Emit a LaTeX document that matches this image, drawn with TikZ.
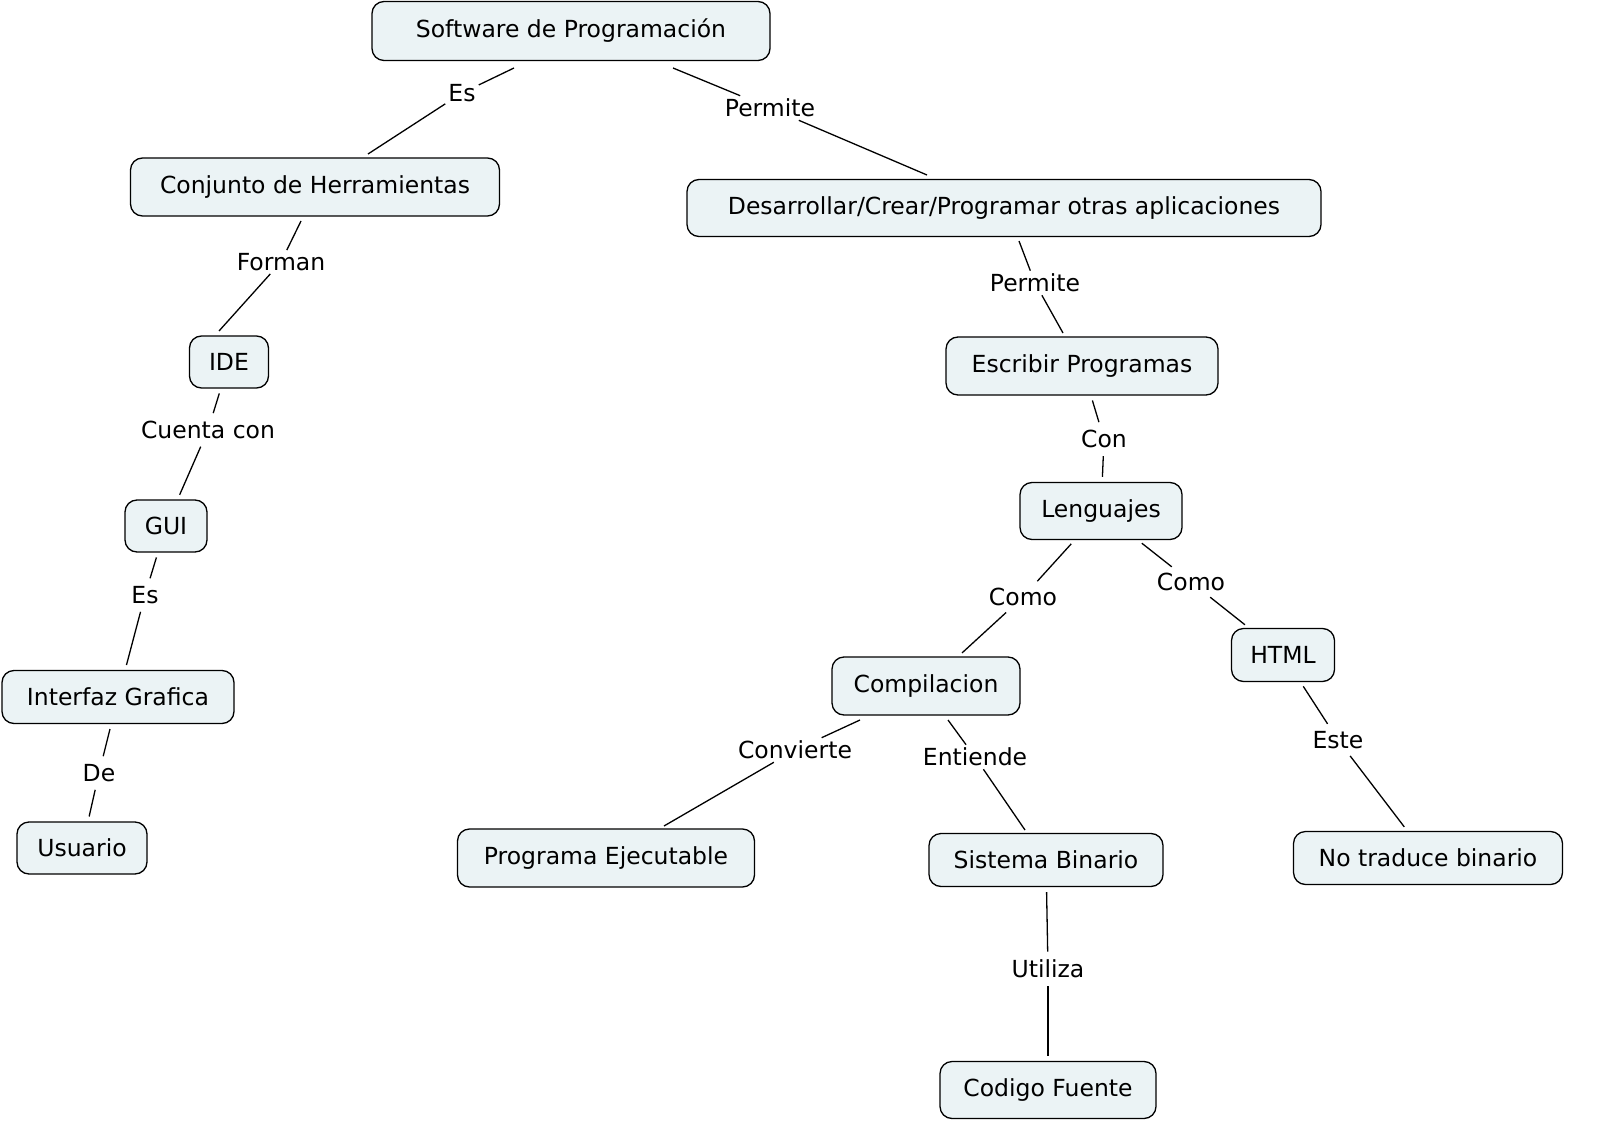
\documentclass[tikz,border=0pt]{standalone}
\usepackage{fontspec}
\setmainfont{DejaVu Sans}
\begin{document}
\begin{tikzpicture}[x=1pt,y=-1pt,
  box/.style={draw,line width=1.3pt,rounded corners=12pt,fill=boxfill,minimum height=54pt,inner sep=0pt,font=\fontsize{23.5}{27}\selectfont},
  lbl/.style={fill=white,inner sep=3pt,font=\fontsize{23.5}{27}\selectfont},
  ln/.style={line width=1.3pt,shorten <=5pt,shorten >=5pt}]
\definecolor{boxfill}{HTML}{EBF3F5}
\useasboundingbox (0,0) rectangle (1600,1147);
\node[box,minimum width=398pt,minimum height=59pt] (sw) at (571,31) {Software de Programación};
\node[box,minimum width=369pt,minimum height=58pt] (ch) at (315,187) {Conjunto de Herramientas};
\node[box,minimum width=634pt,minimum height=57pt] (dc) at (1004,208) {Desarrollar/Crear/Programar otras aplicaciones};
\node[box,minimum width=79pt,minimum height=52pt] (ide) at (229,362) {IDE};
\node[box,minimum width=272pt,minimum height=58pt] (ep) at (1082,366) {Escribir Programas};
\node[box,minimum width=82pt,minimum height=52pt] (gui) at (166,526) {GUI};
\node[box,minimum width=162pt,minimum height=57pt] (le) at (1101,511) {Lenguajes};
\node[box,minimum width=188pt,minimum height=58pt] (co) at (926,686) {Compilacion};
\node[box,minimum width=103pt,minimum height=53pt] (ht) at (1283,655) {HTML};
\node[box,minimum width=232pt,minimum height=53pt] (ig) at (118,697) {Interfaz Grafica};
\node[box,minimum width=130pt,minimum height=52pt] (us) at (82,848) {Usuario};
\node[box,minimum width=297pt,minimum height=58pt] (pe) at (606,858) {Programa Ejecutable};
\node[box,minimum width=234pt,minimum height=53pt] (sb) at (1046,860) {Sistema Binario};
\node[box,minimum width=269pt,minimum height=53pt] (nt) at (1428,858) {No traduce binario};
\node[box,minimum width=216pt,minimum height=57pt] (cf) at (1048,1090) {Codigo Fuente};
\node[lbl] (l1) at (462,93) {Es};
\node[lbl] (l2) at (770,108) {Permite};
\node[lbl] (l3) at (281,262) {Forman};
\node[lbl] (l4) at (1035,283) {Permite};
\node[lbl] (l5) at (208,430) {Cuenta con};
\node[lbl] (l6) at (1104,439) {Con};
\node[lbl] (l7) at (1023,597) {Como};
\node[lbl] (l8) at (1191,582) {Como};
\node[lbl] (l9) at (145,595) {Es};
\node[lbl] (l10) at (795,750) {Convierte};
\node[lbl] (l11) at (975,757) {Entiende};
\node[lbl] (l12) at (1338,740) {Este};
\node[lbl] (l13) at (99,773) {De};
\node[lbl] (l14) at (1048,969) {Utiliza};
\coordinate (a1) at (514,68); \coordinate (b1) at (368,154);
\coordinate (a2) at (673,68); \coordinate (b2) at (927,175);
\coordinate (a3) at (301,221); \coordinate (b3) at (219,331);
\coordinate (a4) at (1019,241); \coordinate (b4) at (1063,333);
\coordinate (a10) at (860,720); \coordinate (b10) at (664,826);
\coordinate (a11) at (948,720); \coordinate (b11) at (1025,830);
\draw[line width=1.3pt] (a1) -- (l1) -- (b1);
\draw[line width=1.3pt] (a2) -- (l2) -- (b2);
\draw[line width=1.3pt] (a3) -- (l3) -- (b3);
\draw[line width=1.3pt] (a4) -- (l4) -- (b4);
\draw[line width=1.3pt] (a10) -- (l10) -- (b10);
\draw[line width=1.3pt] (a11) -- (l11) -- (b11);
\draw[ln] (ide) -- (l5); \draw[ln] (l5) -- (gui);
\draw[ln] (ep) -- (l6); \draw[ln] (l6) -- (le);
\draw[ln] (le) -- (l7); \draw[ln] (l7) -- (co);
\draw[ln] (le) -- (l8); \draw[ln] (l8) -- (ht);
\draw[ln] (gui) -- (l9); \draw[ln] (l9) -- (ig);
\draw[ln] (ht) -- (l12); \draw[ln] (l12) -- (nt);
\draw[ln] (ig) -- (l13); \draw[ln] (l13) -- (us);
\draw[ln] (sb) -- (l14); \draw[ln] (l14) -- (cf);
\end{tikzpicture}
\end{document}
